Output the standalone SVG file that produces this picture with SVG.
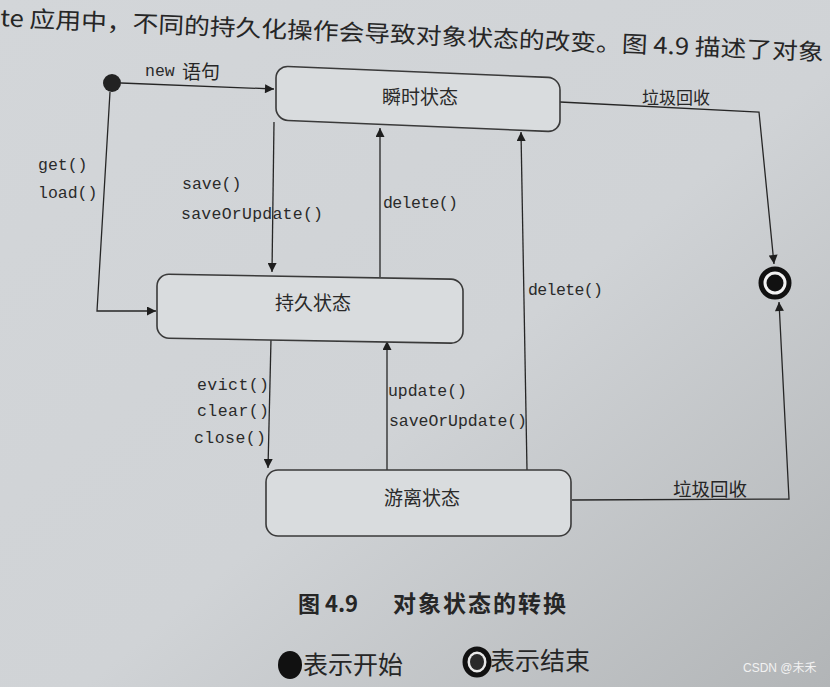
<svg xmlns="http://www.w3.org/2000/svg" width="830" height="687" viewBox="0 0 830 687">
<defs>
  <linearGradient id="paper" x1="0" y1="0" x2="1" y2="1">
    <stop offset="0" stop-color="#d3d6d9"/>
    <stop offset="0.55" stop-color="#d0d3d6"/>
    <stop offset="1" stop-color="#b2b5b7"/>
  </linearGradient>
  <marker id="arr" viewBox="0 0 10 10" refX="10" refY="5" markerWidth="11" markerHeight="9" markerUnits="userSpaceOnUse" orient="auto">
    <path d="M0,0 L10,5 L0,10 Z" fill="#1e1e1e"/>
  </marker>
  <style>
    .box { fill: #d9dcde; stroke: #3a3a3a; stroke-width: 1.6; }
    .ln { fill: none; stroke: #262626; stroke-width: 1.3; marker-end: url(#arr); }
    .mono { font-family: "Liberation Mono", "DejaVu Sans Mono", monospace; font-size: 16.5px; fill: #2a2a2a; }
    .cjk { font-family: "Noto Sans CJK SC", "Noto Sans", sans-serif; fill: #262626; }
    .lbl { font-family: "Noto Sans CJK SC", "Noto Sans", sans-serif; font-size: 19px; fill: #2a2a2a; text-anchor: middle; }
  </style>
</defs>
<rect x="0" y="0" width="830" height="687" fill="url(#paper)"/>

<text class="cjk" x="0" y="26" font-size="23" textLength="824" lengthAdjust="spacingAndGlyphs" transform="rotate(2.4 0 26)" fill="#1c1c1c">te 应用中，不同的持久化操作会导致对象状态的改变。图 4.9 描述了对象</text>

<g id="connectors">
  <line class="ln" x1="121" y1="83" x2="274" y2="89"/>
  <polyline class="ln" points="110,92 97,311 156,311"/>
  <line class="ln" x1="274" y1="122" x2="272" y2="272"/>
  <line class="ln" x1="380" y1="277" x2="380" y2="128"/>
  <line class="ln" x1="527" y1="470" x2="521" y2="132"/>
  <line class="ln" x1="271" y1="339" x2="268" y2="468"/>
  <line class="ln" x1="387" y1="470" x2="387" y2="341"/>
  <polyline class="ln" points="560,102 759,112 774,264"/>
  <polyline class="ln" points="572,500 789,499 779,302"/>

  <text class="mono" x="145" y="76" font-size="15">new</text>
  <text class="cjk" x="182" y="79" font-size="19">语句</text>
  <text class="mono" x="38" y="170">get()</text>
  <text class="mono" x="38" y="198">load()</text>
  <text class="mono" x="182" y="189">save()</text>
  <text class="mono" x="181" y="219" textLength="142">saveOrUpdate()</text>
  <text class="mono" x="383" y="208" textLength="75">delete()</text>
  <text class="mono" x="528" y="295" textLength="75">delete()</text>
  <text class="mono" x="197" y="390" textLength="72">evict()</text>
  <text class="mono" x="197" y="416" textLength="72">clear()</text>
  <text class="mono" x="194" y="443" textLength="72">close()</text>
  <text class="mono" x="388" y="396" textLength="79">update()</text>
  <text class="mono" x="389" y="426" textLength="138">saveOrUpdate()</text>
  <text class="cjk" x="642" y="104" font-size="17">垃圾回收</text>
  <text class="cjk" x="673" y="496" font-size="18.5">垃圾回收</text>
</g>

<g id="start">
  <circle cx="112" cy="83" r="9" fill="#222"/>
</g>

<g id="transient">
  <rect class="box" x="0" y="0" width="284" height="54" rx="12" transform="translate(276 66) skewY(2.4)"/>
  <text class="lbl" x="420" y="104">瞬时状态</text>
</g>

<g id="persistent">
  <rect class="box" x="0" y="0" width="306" height="64" rx="12" transform="translate(157 274) skewY(1.0)"/>
  <text class="lbl" x="313" y="310" font-size="20">持久状态</text>
</g>

<g id="detached">
  <rect class="box" x="266" y="470" width="305" height="66" rx="12"/>
  <text class="lbl" x="422" y="505" font-size="20">游离状态</text>
</g>

<g id="end">
  <circle cx="775" cy="283" r="14" fill="#f2f2f2" stroke="#111" stroke-width="5"/>
  <circle cx="775" cy="283" r="8.5" fill="#111"/>
</g>

<g id="caption">
  <text class="cjk" x="298" y="612" font-size="22" font-weight="700" fill="#1a1a1a" xml:space="preserve">图 4.9</text>
  <text class="cjk" x="393" y="612" font-size="23" font-weight="700" fill="#1a1a1a" textLength="173">对象状态的转换</text>
</g>

<g id="legend">
  <ellipse cx="290" cy="665" rx="12" ry="14" fill="#111"/>
  <text class="cjk" x="303" y="674" font-size="25" fill="#1a1a1a">表示开始</text>
  <ellipse cx="477" cy="662" rx="12" ry="13" fill="#e8e8e8" stroke="#111" stroke-width="5"/>
  <ellipse cx="477" cy="662" rx="7" ry="8" fill="#2a2a2a"/>
  <text class="cjk" x="490" y="670" font-size="25" fill="#1a1a1a">表示结束</text>
</g>

<text x="743" y="672" font-family="Liberation Sans, Noto Sans CJK SC, sans-serif" font-size="12" fill="#f2f2f2">CSDN @未禾</text>
</svg>
